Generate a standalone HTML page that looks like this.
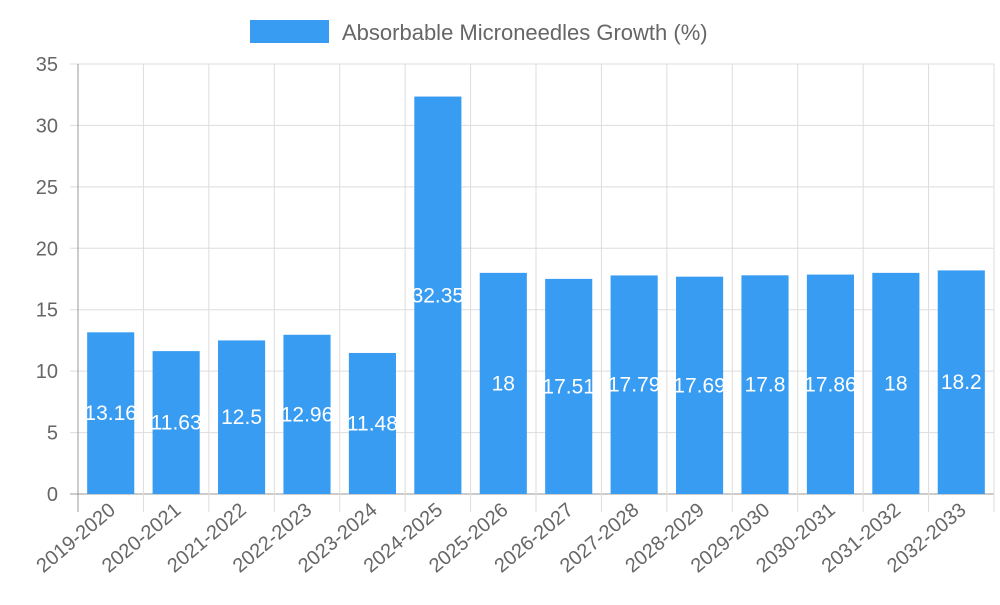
<!DOCTYPE html>
<html><head><meta charset="utf-8"><style>
body{margin:0;background:#fff;}
svg text{font-family:"Liberation Sans",sans-serif;}
</style></head><body>
<svg id="chart" width="1000" height="600">
<rect x="250" y="20" width="79" height="23" fill="#389cf2"></rect>
<text x="342" y="40" font-size="22" fill="#666">Absorbable Microneedles Growth (%)</text>
<g id="grid"></g><g id="bars"></g><g id="labels"></g>
</svg>
<script>
const categories=["2019-2020","2020-2021","2021-2022","2022-2023","2023-2024","2024-2025","2025-2026","2026-2027","2027-2028","2028-2029","2029-2030","2030-2031","2031-2032","2032-2033"];
const values=[13.16,11.63,12.5,12.96,11.48,32.35,18,17.51,17.79,17.69,17.8,17.86,18,18.2];
const yTicks=[0,5,10,15,20,25,30,35];
const X0=78,X1=994,Y0=494,Y1=64,YMAX=35;
const NS="http://www.w3.org/2000/svg";
const bw=(X1-X0)/categories.length;
function xPos(i){return X0+i*bw;}
function yPos(v){return Y0-(v/YMAX)*(Y0-Y1);}
const grid=document.getElementById('grid'),bars=document.getElementById('bars'),labels=document.getElementById('labels');
function mk(tag,attrs,parent){const e=document.createElementNS(NS,tag);for(const k in attrs)e.setAttribute(k,attrs[k]);parent.appendChild(e);return e;}
yTicks.forEach(t=>{
  const y=yPos(t);
  const l=mk('line',{x1:70,x2:X1,y1:y,y2:y,stroke:t===0?'#999':'#ddd','stroke-width':1},grid);
  
  
  const tx=mk('text',{x:58,y:y+7,'font-size':20,fill:'#666','text-anchor':'end'},grid);
  tx.textContent=t;
  
  
});
for(let i=0;i<=categories.length;i++){
  const x=xPos(i);
  const l=mk('line',{x1:x,x2:x,y1:Y1,y2:Y0+18,stroke:i===0?'#999':'#ddd','stroke-width':1},grid);
  
  
}
categories.forEach((c,i)=>{
  const cx=xPos(i)+bw/2,w=bw*0.72,y=yPos(values[i]);
  const r=mk('rect',{x:cx-w/2,y:y,width:w,height:Y0-y,fill:'#389cf2'},bars);
  
  
  const v=mk('text',{x:cx,y:(y+Y0)/2+7,'font-size':21,fill:'#fff','text-anchor':'middle'},labels);
  v.textContent=values[i];
  
  
  const t=mk('text',{x:cx+6,y:512,'font-size':20,fill:'#666','text-anchor':'end',transform:`rotate(-40 ${cx+6} 512)`},labels);
  t.textContent=c;
  
  
});
</script>
</body></html>
